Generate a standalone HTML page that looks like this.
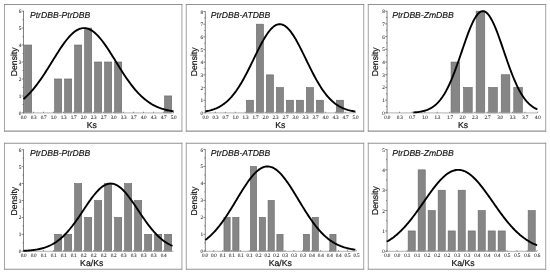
<!DOCTYPE html>
<html lang="en"><head><meta charset="utf-8"><title>Ks and Ka/Ks distributions</title>
<style>
html,body{margin:0;padding:0;background:#fff;}
body{width:550px;height:273px;overflow:hidden;}
svg{display:block;}
text{font-family:"Liberation Sans",Arial,sans-serif;fill:#111;text-rendering:geometricPrecision;}
.tk{font-family:"Liberation Serif","Times New Roman",serif;font-size:5.2px;fill:#303030;stroke:#303030;stroke-width:0.08px;letter-spacing:-0.25px;}
.ti{font-style:italic;font-size:8.6px;fill:#111;stroke:#111;stroke-width:0.15px;}
.dl{font-size:8.6px;stroke:#111;stroke-width:0.2px;}
.xl{font-size:8.7px;stroke:#111;stroke-width:0.2px;}
</style></head><body>
<svg width="550" height="273" viewBox="0 0 550 273">
<rect width="550" height="273" fill="#fff"/>
<g>
<path d="M4.50 4.00V131.60M181.90 4.00V131.60" fill="none" stroke="#a8a8a8" stroke-width="1.05"/>
<path d="M4.00 4.50H182.40M4.00 131.10H182.40" fill="none" stroke="#929292" stroke-width="1.1"/>
<rect x="24.60" y="45.03" width="7.10" height="67.87" fill="#868686" stroke="#666666" stroke-width="0.6"/>
<rect x="54.60" y="78.97" width="7.10" height="33.93" fill="#868686" stroke="#666666" stroke-width="0.6"/>
<rect x="64.60" y="78.97" width="7.10" height="33.93" fill="#868686" stroke="#666666" stroke-width="0.6"/>
<rect x="74.60" y="45.03" width="7.10" height="67.87" fill="#868686" stroke="#666666" stroke-width="0.6"/>
<rect x="84.60" y="28.07" width="7.10" height="84.83" fill="#868686" stroke="#666666" stroke-width="0.6"/>
<rect x="94.60" y="62.00" width="7.10" height="50.90" fill="#868686" stroke="#666666" stroke-width="0.6"/>
<rect x="104.60" y="62.00" width="7.10" height="50.90" fill="#868686" stroke="#666666" stroke-width="0.6"/>
<rect x="114.60" y="62.00" width="7.10" height="50.90" fill="#868686" stroke="#666666" stroke-width="0.6"/>
<rect x="164.60" y="95.93" width="7.10" height="16.97" fill="#868686" stroke="#666666" stroke-width="0.6"/>
<line x1="23.50" y1="10.80" x2="23.50" y2="113.40" stroke="#747474" stroke-width="0.9"/>
<line x1="23.50" y1="112.90" x2="173.50" y2="112.90" stroke="#a8a8a8" stroke-width="0.9"/>
<line x1="21.60" y1="112.90" x2="23.50" y2="112.90" stroke="#555" stroke-width="0.7"/>
<line x1="22.50" y1="104.42" x2="23.50" y2="104.42" stroke="#555" stroke-width="0.7"/>
<line x1="21.60" y1="95.93" x2="23.50" y2="95.93" stroke="#555" stroke-width="0.7"/>
<line x1="22.50" y1="87.45" x2="23.50" y2="87.45" stroke="#555" stroke-width="0.7"/>
<line x1="21.60" y1="78.97" x2="23.50" y2="78.97" stroke="#555" stroke-width="0.7"/>
<line x1="22.50" y1="70.48" x2="23.50" y2="70.48" stroke="#555" stroke-width="0.7"/>
<line x1="21.60" y1="62.00" x2="23.50" y2="62.00" stroke="#555" stroke-width="0.7"/>
<line x1="22.50" y1="53.52" x2="23.50" y2="53.52" stroke="#555" stroke-width="0.7"/>
<line x1="21.60" y1="45.03" x2="23.50" y2="45.03" stroke="#555" stroke-width="0.7"/>
<line x1="22.50" y1="36.55" x2="23.50" y2="36.55" stroke="#555" stroke-width="0.7"/>
<line x1="21.60" y1="28.07" x2="23.50" y2="28.07" stroke="#555" stroke-width="0.7"/>
<line x1="22.50" y1="19.58" x2="23.50" y2="19.58" stroke="#555" stroke-width="0.7"/>
<line x1="21.60" y1="11.10" x2="23.50" y2="11.10" stroke="#555" stroke-width="0.7"/>
<text x="21.10" y="114.90" class="tk" text-anchor="end">0</text>
<text x="21.10" y="97.93" class="tk" text-anchor="end">1</text>
<text x="21.10" y="80.97" class="tk" text-anchor="end">2</text>
<text x="21.10" y="64.00" class="tk" text-anchor="end">3</text>
<text x="21.10" y="47.03" class="tk" text-anchor="end">4</text>
<text x="21.10" y="30.07" class="tk" text-anchor="end">5</text>
<text x="21.10" y="13.10" class="tk" text-anchor="end">6</text>
<line x1="23.50" y1="111.70" x2="23.50" y2="112.90" stroke="#606060" stroke-width="0.7"/>
<text x="23.60" y="119.00" class="tk" text-anchor="middle">0.0</text>
<line x1="33.50" y1="111.70" x2="33.50" y2="112.90" stroke="#606060" stroke-width="0.7"/>
<text x="33.60" y="119.00" class="tk" text-anchor="middle">0.3</text>
<line x1="43.50" y1="111.70" x2="43.50" y2="112.90" stroke="#606060" stroke-width="0.7"/>
<text x="43.60" y="119.00" class="tk" text-anchor="middle">0.7</text>
<line x1="53.50" y1="111.70" x2="53.50" y2="112.90" stroke="#606060" stroke-width="0.7"/>
<text x="53.60" y="119.00" class="tk" text-anchor="middle">1.0</text>
<line x1="63.50" y1="111.70" x2="63.50" y2="112.90" stroke="#606060" stroke-width="0.7"/>
<text x="63.60" y="119.00" class="tk" text-anchor="middle">1.3</text>
<line x1="73.50" y1="111.70" x2="73.50" y2="112.90" stroke="#606060" stroke-width="0.7"/>
<text x="73.60" y="119.00" class="tk" text-anchor="middle">1.7</text>
<line x1="83.50" y1="111.70" x2="83.50" y2="112.90" stroke="#606060" stroke-width="0.7"/>
<text x="83.60" y="119.00" class="tk" text-anchor="middle">2.0</text>
<line x1="93.50" y1="111.70" x2="93.50" y2="112.90" stroke="#606060" stroke-width="0.7"/>
<text x="93.60" y="119.00" class="tk" text-anchor="middle">2.3</text>
<line x1="103.50" y1="111.70" x2="103.50" y2="112.90" stroke="#606060" stroke-width="0.7"/>
<text x="103.60" y="119.00" class="tk" text-anchor="middle">2.7</text>
<line x1="113.50" y1="111.70" x2="113.50" y2="112.90" stroke="#606060" stroke-width="0.7"/>
<text x="113.60" y="119.00" class="tk" text-anchor="middle">3.0</text>
<line x1="123.50" y1="111.70" x2="123.50" y2="112.90" stroke="#606060" stroke-width="0.7"/>
<text x="123.60" y="119.00" class="tk" text-anchor="middle">3.3</text>
<line x1="133.50" y1="111.70" x2="133.50" y2="112.90" stroke="#606060" stroke-width="0.7"/>
<text x="133.60" y="119.00" class="tk" text-anchor="middle">3.7</text>
<line x1="143.50" y1="111.70" x2="143.50" y2="112.90" stroke="#606060" stroke-width="0.7"/>
<text x="143.60" y="119.00" class="tk" text-anchor="middle">4.0</text>
<line x1="153.50" y1="111.70" x2="153.50" y2="112.90" stroke="#606060" stroke-width="0.7"/>
<text x="153.60" y="119.00" class="tk" text-anchor="middle">4.3</text>
<line x1="163.50" y1="111.70" x2="163.50" y2="112.90" stroke="#606060" stroke-width="0.7"/>
<text x="163.60" y="119.00" class="tk" text-anchor="middle">4.7</text>
<line x1="173.50" y1="111.70" x2="173.50" y2="112.90" stroke="#606060" stroke-width="0.7"/>
<text x="173.60" y="119.00" class="tk" text-anchor="middle">5.0</text>
<polyline points="23.50,99.01 24.50,98.16 25.50,97.28 26.50,96.36 27.50,95.40 28.50,94.40 29.50,93.37 30.50,92.30 31.50,91.19 32.50,90.04 33.50,88.86 34.50,87.64 35.50,86.39 36.50,85.10 37.50,83.78 38.50,82.42 39.50,81.03 40.50,79.62 41.50,78.17 42.50,76.70 43.50,75.20 44.50,73.68 45.50,72.14 46.50,70.57 47.50,69.00 48.50,67.41 49.50,65.80 50.50,64.19 51.50,62.58 52.50,60.96 53.50,59.34 54.50,57.73 55.50,56.13 56.50,54.53 57.50,52.95 58.50,51.39 59.50,49.85 60.50,48.34 61.50,46.85 62.50,45.40 63.50,43.98 64.50,42.61 65.50,41.27 66.50,39.99 67.50,38.75 68.50,37.57 69.50,36.44 70.50,35.38 71.50,34.37 72.50,33.44 73.50,32.57 74.50,31.77 75.50,31.04 76.50,30.39 77.50,29.82 78.50,29.33 79.50,28.91 80.50,28.58 81.50,28.33 82.50,28.16 83.50,28.08 84.50,28.08 85.50,28.16 86.50,28.33 87.50,28.58 88.50,28.91 89.50,29.33 90.50,29.82 91.50,30.39 92.50,31.04 93.50,31.77 94.50,32.57 95.50,33.44 96.50,34.37 97.50,35.38 98.50,36.44 99.50,37.57 100.50,38.75 101.50,39.99 102.50,41.27 103.50,42.61 104.50,43.98 105.50,45.40 106.50,46.85 107.50,48.34 108.50,49.85 109.50,51.39 110.50,52.95 111.50,54.53 112.50,56.13 113.50,57.73 114.50,59.34 115.50,60.96 116.50,62.58 117.50,64.19 118.50,65.80 119.50,67.41 120.50,69.00 121.50,70.57 122.50,72.14 123.50,73.68 124.50,75.20 125.50,76.70 126.50,78.17 127.50,79.62 128.50,81.03 129.50,82.42 130.50,83.78 131.50,85.10 132.50,86.39 133.50,87.64 134.50,88.86 135.50,90.04 136.50,91.19 137.50,92.30 138.50,93.37 139.50,94.40 140.50,95.40 141.50,96.36 142.50,97.28 143.50,98.16 144.50,99.01 145.50,99.83 146.50,100.60 147.50,101.35 148.50,102.06 149.50,102.73 150.50,103.37 151.50,103.98 152.50,104.56 153.50,105.11 154.50,105.63 155.50,106.13 156.50,106.59 157.50,107.03 158.50,107.45 159.50,107.84 160.50,108.20 161.50,108.55 162.50,108.87 163.50,109.17 164.50,109.46 165.50,109.72 166.50,109.97 167.50,110.20 168.50,110.42 169.50,110.62 170.50,110.80 171.50,110.97 172.50,111.14 173.50,111.28" fill="none" stroke="#000" stroke-width="1.9" stroke-linejoin="round" stroke-linecap="butt"/>
<text x="30.00" y="17.60" class="ti">PtrDBB-PtrDBB</text>
<text transform="translate(16.50,61.80) rotate(-90)" class="dl" text-anchor="middle">Density</text>
<text x="91.70" y="128.00" class="xl" text-anchor="middle">Ks</text>
</g>
<g>
<path d="M186.30 4.00V131.60M363.70 4.00V131.60" fill="none" stroke="#a8a8a8" stroke-width="1.05"/>
<path d="M185.80 4.50H364.20M185.80 131.10H364.20" fill="none" stroke="#929292" stroke-width="1.1"/>
<rect x="246.40" y="100.23" width="7.10" height="12.68" fill="#868686" stroke="#666666" stroke-width="0.6"/>
<rect x="256.40" y="24.17" width="7.10" height="88.73" fill="#868686" stroke="#666666" stroke-width="0.6"/>
<rect x="266.40" y="74.88" width="7.10" height="38.03" fill="#868686" stroke="#666666" stroke-width="0.6"/>
<rect x="276.40" y="87.55" width="7.10" height="25.35" fill="#868686" stroke="#666666" stroke-width="0.6"/>
<rect x="286.40" y="100.23" width="7.10" height="12.68" fill="#868686" stroke="#666666" stroke-width="0.6"/>
<rect x="296.40" y="100.23" width="7.10" height="12.68" fill="#868686" stroke="#666666" stroke-width="0.6"/>
<rect x="306.40" y="87.55" width="7.10" height="25.35" fill="#868686" stroke="#666666" stroke-width="0.6"/>
<rect x="316.40" y="100.23" width="7.10" height="12.68" fill="#868686" stroke="#666666" stroke-width="0.6"/>
<rect x="336.40" y="100.23" width="7.10" height="12.68" fill="#868686" stroke="#666666" stroke-width="0.6"/>
<line x1="205.30" y1="11.20" x2="205.30" y2="113.40" stroke="#747474" stroke-width="0.9"/>
<line x1="205.30" y1="112.90" x2="355.30" y2="112.90" stroke="#a8a8a8" stroke-width="0.9"/>
<line x1="203.40" y1="112.90" x2="205.30" y2="112.90" stroke="#555" stroke-width="0.7"/>
<line x1="204.30" y1="106.56" x2="205.30" y2="106.56" stroke="#555" stroke-width="0.7"/>
<line x1="203.40" y1="100.23" x2="205.30" y2="100.23" stroke="#555" stroke-width="0.7"/>
<line x1="204.30" y1="93.89" x2="205.30" y2="93.89" stroke="#555" stroke-width="0.7"/>
<line x1="203.40" y1="87.55" x2="205.30" y2="87.55" stroke="#555" stroke-width="0.7"/>
<line x1="204.30" y1="81.21" x2="205.30" y2="81.21" stroke="#555" stroke-width="0.7"/>
<line x1="203.40" y1="74.88" x2="205.30" y2="74.88" stroke="#555" stroke-width="0.7"/>
<line x1="204.30" y1="68.54" x2="205.30" y2="68.54" stroke="#555" stroke-width="0.7"/>
<line x1="203.40" y1="62.20" x2="205.30" y2="62.20" stroke="#555" stroke-width="0.7"/>
<line x1="204.30" y1="55.86" x2="205.30" y2="55.86" stroke="#555" stroke-width="0.7"/>
<line x1="203.40" y1="49.53" x2="205.30" y2="49.53" stroke="#555" stroke-width="0.7"/>
<line x1="204.30" y1="43.19" x2="205.30" y2="43.19" stroke="#555" stroke-width="0.7"/>
<line x1="203.40" y1="36.85" x2="205.30" y2="36.85" stroke="#555" stroke-width="0.7"/>
<line x1="204.30" y1="30.51" x2="205.30" y2="30.51" stroke="#555" stroke-width="0.7"/>
<line x1="203.40" y1="24.17" x2="205.30" y2="24.17" stroke="#555" stroke-width="0.7"/>
<line x1="204.30" y1="17.84" x2="205.30" y2="17.84" stroke="#555" stroke-width="0.7"/>
<line x1="203.40" y1="11.50" x2="205.30" y2="11.50" stroke="#555" stroke-width="0.7"/>
<text x="202.90" y="114.90" class="tk" text-anchor="end">0</text>
<text x="202.90" y="102.23" class="tk" text-anchor="end">1</text>
<text x="202.90" y="89.55" class="tk" text-anchor="end">2</text>
<text x="202.90" y="76.88" class="tk" text-anchor="end">3</text>
<text x="202.90" y="64.20" class="tk" text-anchor="end">4</text>
<text x="202.90" y="51.53" class="tk" text-anchor="end">5</text>
<text x="202.90" y="38.85" class="tk" text-anchor="end">6</text>
<text x="202.90" y="26.17" class="tk" text-anchor="end">7</text>
<text x="202.90" y="13.50" class="tk" text-anchor="end">8</text>
<line x1="205.30" y1="111.70" x2="205.30" y2="112.90" stroke="#606060" stroke-width="0.7"/>
<text x="205.40" y="119.00" class="tk" text-anchor="middle">0.0</text>
<line x1="215.30" y1="111.70" x2="215.30" y2="112.90" stroke="#606060" stroke-width="0.7"/>
<text x="215.40" y="119.00" class="tk" text-anchor="middle">0.3</text>
<line x1="225.30" y1="111.70" x2="225.30" y2="112.90" stroke="#606060" stroke-width="0.7"/>
<text x="225.40" y="119.00" class="tk" text-anchor="middle">0.7</text>
<line x1="235.30" y1="111.70" x2="235.30" y2="112.90" stroke="#606060" stroke-width="0.7"/>
<text x="235.40" y="119.00" class="tk" text-anchor="middle">1.0</text>
<line x1="245.30" y1="111.70" x2="245.30" y2="112.90" stroke="#606060" stroke-width="0.7"/>
<text x="245.40" y="119.00" class="tk" text-anchor="middle">1.3</text>
<line x1="255.30" y1="111.70" x2="255.30" y2="112.90" stroke="#606060" stroke-width="0.7"/>
<text x="255.40" y="119.00" class="tk" text-anchor="middle">1.7</text>
<line x1="265.30" y1="111.70" x2="265.30" y2="112.90" stroke="#606060" stroke-width="0.7"/>
<text x="265.40" y="119.00" class="tk" text-anchor="middle">2.0</text>
<line x1="275.30" y1="111.70" x2="275.30" y2="112.90" stroke="#606060" stroke-width="0.7"/>
<text x="275.40" y="119.00" class="tk" text-anchor="middle">2.3</text>
<line x1="285.30" y1="111.70" x2="285.30" y2="112.90" stroke="#606060" stroke-width="0.7"/>
<text x="285.40" y="119.00" class="tk" text-anchor="middle">2.7</text>
<line x1="295.30" y1="111.70" x2="295.30" y2="112.90" stroke="#606060" stroke-width="0.7"/>
<text x="295.40" y="119.00" class="tk" text-anchor="middle">3.0</text>
<line x1="305.30" y1="111.70" x2="305.30" y2="112.90" stroke="#606060" stroke-width="0.7"/>
<text x="305.40" y="119.00" class="tk" text-anchor="middle">3.3</text>
<line x1="315.30" y1="111.70" x2="315.30" y2="112.90" stroke="#606060" stroke-width="0.7"/>
<text x="315.40" y="119.00" class="tk" text-anchor="middle">3.7</text>
<line x1="325.30" y1="111.70" x2="325.30" y2="112.90" stroke="#606060" stroke-width="0.7"/>
<text x="325.40" y="119.00" class="tk" text-anchor="middle">4.0</text>
<line x1="335.30" y1="111.70" x2="335.30" y2="112.90" stroke="#606060" stroke-width="0.7"/>
<text x="335.40" y="119.00" class="tk" text-anchor="middle">4.3</text>
<line x1="345.30" y1="111.70" x2="345.30" y2="112.90" stroke="#606060" stroke-width="0.7"/>
<text x="345.40" y="119.00" class="tk" text-anchor="middle">4.7</text>
<line x1="355.30" y1="111.70" x2="355.30" y2="112.90" stroke="#606060" stroke-width="0.7"/>
<text x="355.40" y="119.00" class="tk" text-anchor="middle">5.0</text>
<polyline points="205.30,111.38 206.30,111.21 207.30,111.02 208.30,110.81 209.30,110.58 210.30,110.33 211.30,110.05 212.30,109.75 213.30,109.43 214.30,109.08 215.30,108.69 216.30,108.28 217.30,107.83 218.30,107.35 219.30,106.83 220.30,106.27 221.30,105.67 222.30,105.03 223.30,104.34 224.30,103.61 225.30,102.83 226.30,102.00 227.30,101.12 228.30,100.19 229.30,99.20 230.30,98.16 231.30,97.06 232.30,95.90 233.30,94.69 234.30,93.42 235.30,92.09 236.30,90.71 237.30,89.26 238.30,87.76 239.30,86.20 240.30,84.59 241.30,82.92 242.30,81.21 243.30,79.44 244.30,77.63 245.30,75.77 246.30,73.87 247.30,71.94 248.30,69.97 249.30,67.98 250.30,65.96 251.30,63.92 252.30,61.87 253.30,59.81 254.30,57.75 255.30,55.69 256.30,53.64 257.30,51.61 258.30,49.60 259.30,47.63 260.30,45.69 261.30,43.79 262.30,41.95 263.30,40.16 264.30,38.43 265.30,36.78 266.30,35.21 267.30,33.72 268.30,32.31 269.30,31.01 270.30,29.80 271.30,28.71 272.30,27.72 273.30,26.84 274.30,26.09 275.30,25.46 276.30,24.95 277.30,24.57 278.30,24.31 279.30,24.19 280.30,24.19 281.30,24.33 282.30,24.60 283.30,24.99 284.30,25.51 285.30,26.16 286.30,26.93 287.30,27.81 288.30,28.81 289.30,29.92 290.30,31.14 291.30,32.45 292.30,33.86 293.30,35.36 294.30,36.94 295.30,38.60 296.30,40.33 297.30,42.13 298.30,43.98 299.30,45.88 300.30,47.82 301.30,49.80 302.30,51.81 303.30,53.84 304.30,55.89 305.30,57.95 306.30,60.01 307.30,62.07 308.30,64.12 309.30,66.16 310.30,68.18 311.30,70.17 312.30,72.13 313.30,74.06 314.30,75.96 315.30,77.81 316.30,79.62 317.30,81.38 318.30,83.09 319.30,84.75 320.30,86.36 321.30,87.91 322.30,89.41 323.30,90.85 324.30,92.23 325.30,93.55 326.30,94.82 327.30,96.02 328.30,97.17 329.30,98.26 330.30,99.30 331.30,100.28 332.30,101.21 333.30,102.09 334.30,102.91 335.30,103.69 336.30,104.41 337.30,105.10 338.30,105.73 339.30,106.33 340.30,106.88 341.30,107.40 342.30,107.88 343.30,108.32 344.30,108.73 345.30,109.11 346.30,109.46 347.30,109.78 348.30,110.08 349.30,110.35 350.30,110.60 351.30,110.83 352.30,111.04 353.30,111.23 354.30,111.40 355.30,111.56" fill="none" stroke="#000" stroke-width="1.9" stroke-linejoin="round" stroke-linecap="butt"/>
<text x="210.80" y="17.60" class="ti">PtrDBB-ATDBB</text>
<text transform="translate(196.60,61.80) rotate(-90)" class="dl" text-anchor="middle">Density</text>
<text x="280.30" y="127.90" class="xl" text-anchor="middle">Ks</text>
</g>
<g>
<path d="M368.30 4.00V131.60M545.70 4.00V131.60" fill="none" stroke="#a8a8a8" stroke-width="1.05"/>
<path d="M367.80 4.50H546.20M367.80 131.10H546.20" fill="none" stroke="#929292" stroke-width="1.1"/>
<rect x="451.06" y="62.03" width="8.62" height="50.88" fill="#868686" stroke="#666666" stroke-width="0.6"/>
<rect x="463.60" y="87.46" width="8.62" height="25.44" fill="#868686" stroke="#666666" stroke-width="0.6"/>
<rect x="476.15" y="11.15" width="8.62" height="101.75" fill="#868686" stroke="#666666" stroke-width="0.6"/>
<rect x="488.69" y="87.46" width="8.62" height="25.44" fill="#868686" stroke="#666666" stroke-width="0.6"/>
<rect x="501.23" y="74.74" width="8.62" height="38.16" fill="#868686" stroke="#666666" stroke-width="0.6"/>
<rect x="513.77" y="87.46" width="8.62" height="25.44" fill="#868686" stroke="#666666" stroke-width="0.6"/>
<line x1="387.05" y1="10.85" x2="387.05" y2="113.40" stroke="#747474" stroke-width="0.9"/>
<line x1="387.05" y1="112.90" x2="537.55" y2="112.90" stroke="#a8a8a8" stroke-width="0.9"/>
<line x1="385.15" y1="112.90" x2="387.05" y2="112.90" stroke="#555" stroke-width="0.7"/>
<line x1="386.05" y1="106.54" x2="387.05" y2="106.54" stroke="#555" stroke-width="0.7"/>
<line x1="385.15" y1="100.18" x2="387.05" y2="100.18" stroke="#555" stroke-width="0.7"/>
<line x1="386.05" y1="93.82" x2="387.05" y2="93.82" stroke="#555" stroke-width="0.7"/>
<line x1="385.15" y1="87.46" x2="387.05" y2="87.46" stroke="#555" stroke-width="0.7"/>
<line x1="386.05" y1="81.10" x2="387.05" y2="81.10" stroke="#555" stroke-width="0.7"/>
<line x1="385.15" y1="74.74" x2="387.05" y2="74.74" stroke="#555" stroke-width="0.7"/>
<line x1="386.05" y1="68.38" x2="387.05" y2="68.38" stroke="#555" stroke-width="0.7"/>
<line x1="385.15" y1="62.03" x2="387.05" y2="62.03" stroke="#555" stroke-width="0.7"/>
<line x1="386.05" y1="55.67" x2="387.05" y2="55.67" stroke="#555" stroke-width="0.7"/>
<line x1="385.15" y1="49.31" x2="387.05" y2="49.31" stroke="#555" stroke-width="0.7"/>
<line x1="386.05" y1="42.95" x2="387.05" y2="42.95" stroke="#555" stroke-width="0.7"/>
<line x1="385.15" y1="36.59" x2="387.05" y2="36.59" stroke="#555" stroke-width="0.7"/>
<line x1="386.05" y1="30.23" x2="387.05" y2="30.23" stroke="#555" stroke-width="0.7"/>
<line x1="385.15" y1="23.87" x2="387.05" y2="23.87" stroke="#555" stroke-width="0.7"/>
<line x1="386.05" y1="17.51" x2="387.05" y2="17.51" stroke="#555" stroke-width="0.7"/>
<line x1="385.15" y1="11.15" x2="387.05" y2="11.15" stroke="#555" stroke-width="0.7"/>
<text x="384.65" y="114.90" class="tk" text-anchor="end">0</text>
<text x="384.65" y="102.18" class="tk" text-anchor="end">1</text>
<text x="384.65" y="89.46" class="tk" text-anchor="end">2</text>
<text x="384.65" y="76.74" class="tk" text-anchor="end">3</text>
<text x="384.65" y="64.03" class="tk" text-anchor="end">4</text>
<text x="384.65" y="51.31" class="tk" text-anchor="end">5</text>
<text x="384.65" y="38.59" class="tk" text-anchor="end">6</text>
<text x="384.65" y="25.87" class="tk" text-anchor="end">7</text>
<text x="384.65" y="13.15" class="tk" text-anchor="end">8</text>
<line x1="387.05" y1="111.70" x2="387.05" y2="112.90" stroke="#606060" stroke-width="0.7"/>
<text x="387.15" y="119.00" class="tk" text-anchor="middle">0.0</text>
<line x1="399.59" y1="111.70" x2="399.59" y2="112.90" stroke="#606060" stroke-width="0.7"/>
<text x="399.69" y="119.00" class="tk" text-anchor="middle">0.3</text>
<line x1="412.13" y1="111.70" x2="412.13" y2="112.90" stroke="#606060" stroke-width="0.7"/>
<text x="412.23" y="119.00" class="tk" text-anchor="middle">0.7</text>
<line x1="424.68" y1="111.70" x2="424.68" y2="112.90" stroke="#606060" stroke-width="0.7"/>
<text x="424.78" y="119.00" class="tk" text-anchor="middle">1.0</text>
<line x1="437.22" y1="111.70" x2="437.22" y2="112.90" stroke="#606060" stroke-width="0.7"/>
<text x="437.32" y="119.00" class="tk" text-anchor="middle">1.3</text>
<line x1="449.76" y1="111.70" x2="449.76" y2="112.90" stroke="#606060" stroke-width="0.7"/>
<text x="449.86" y="119.00" class="tk" text-anchor="middle">1.7</text>
<line x1="462.30" y1="111.70" x2="462.30" y2="112.90" stroke="#606060" stroke-width="0.7"/>
<text x="462.40" y="119.00" class="tk" text-anchor="middle">2.0</text>
<line x1="474.84" y1="111.70" x2="474.84" y2="112.90" stroke="#606060" stroke-width="0.7"/>
<text x="474.94" y="119.00" class="tk" text-anchor="middle">2.3</text>
<line x1="487.38" y1="111.70" x2="487.38" y2="112.90" stroke="#606060" stroke-width="0.7"/>
<text x="487.48" y="119.00" class="tk" text-anchor="middle">2.7</text>
<line x1="499.93" y1="111.70" x2="499.93" y2="112.90" stroke="#606060" stroke-width="0.7"/>
<text x="500.03" y="119.00" class="tk" text-anchor="middle">3.0</text>
<line x1="512.47" y1="111.70" x2="512.47" y2="112.90" stroke="#606060" stroke-width="0.7"/>
<text x="512.57" y="119.00" class="tk" text-anchor="middle">3.3</text>
<line x1="525.01" y1="111.70" x2="525.01" y2="112.90" stroke="#606060" stroke-width="0.7"/>
<text x="525.11" y="119.00" class="tk" text-anchor="middle">3.7</text>
<line x1="537.55" y1="111.70" x2="537.55" y2="112.90" stroke="#606060" stroke-width="0.7"/>
<text x="537.65" y="119.00" class="tk" text-anchor="middle">4.0</text>
<polyline points="413.37,112.47 414.37,112.40 415.37,112.32 416.37,112.22 417.37,112.11 418.37,111.99 419.37,111.84 420.37,111.68 421.37,111.50 422.37,111.29 423.37,111.06 424.37,110.79 425.37,110.50 426.37,110.17 427.37,109.80 428.37,109.38 429.37,108.93 430.37,108.42 431.37,107.86 432.37,107.24 433.37,106.56 434.37,105.82 435.37,105.00 436.37,104.11 437.37,103.15 438.37,102.10 439.37,100.97 440.37,99.75 441.37,98.43 442.37,97.03 443.37,95.52 444.37,93.91 445.37,92.21 446.37,90.40 447.37,88.48 448.37,86.47 449.37,84.35 450.37,82.13 451.37,79.82 452.37,77.41 453.37,74.92 454.37,72.34 455.37,69.68 456.37,66.95 457.37,64.16 458.37,61.32 459.37,58.44 460.37,55.53 461.37,52.60 462.37,49.66 463.37,46.73 464.37,43.82 465.37,40.94 466.37,38.12 467.37,35.36 468.37,32.68 469.37,30.09 470.37,27.62 471.37,25.27 472.37,23.06 473.37,21.01 474.37,19.12 475.37,17.40 476.37,15.88 477.37,14.56 478.37,13.44 479.37,12.54 480.37,11.86 481.37,11.40 482.37,11.18 483.37,11.18 484.37,11.42 485.37,11.88 486.37,12.57 487.37,13.48 488.37,14.61 489.37,15.94 490.37,17.47 491.37,19.19 492.37,21.09 493.37,23.15 494.37,25.36 495.37,27.72 496.37,30.20 497.37,32.78 498.37,35.47 499.37,38.23 500.37,41.06 501.37,43.93 502.37,46.84 503.37,49.78 504.37,52.71 505.37,55.64 506.37,58.56 507.37,61.44 508.37,64.28 509.37,67.06 510.37,69.79 511.37,72.44 512.37,75.02 513.37,77.51 514.37,79.91 515.37,82.22 516.37,84.44 517.37,86.55 518.37,88.56 519.37,90.47 520.37,92.28 521.37,93.98 522.37,95.58 523.37,97.08 524.37,98.49 525.37,99.80 526.37,101.02 527.37,102.15 528.37,103.19 529.37,104.15 530.37,105.04 531.37,105.85 532.37,106.59 533.37,107.27 534.37,107.88 535.37,108.44 536.37,108.95 537.37,109.40" fill="none" stroke="#000" stroke-width="1.9" stroke-linejoin="round" stroke-linecap="butt"/>
<text x="392.20" y="17.60" class="ti">PtrDBB-ZmDBB</text>
<text transform="translate(378.30,61.80) rotate(-90)" class="dl" text-anchor="middle">Density</text>
<text x="463.00" y="127.90" class="xl" text-anchor="middle">Ks</text>
</g>
<g>
<path d="M4.50 142.80V269.80M181.90 142.80V269.80" fill="none" stroke="#a8a8a8" stroke-width="1.05"/>
<path d="M4.00 143.30H182.40M4.00 269.30H182.40" fill="none" stroke="#929292" stroke-width="1.1"/>
<rect x="54.60" y="234.37" width="7.10" height="16.93" fill="#868686" stroke="#666666" stroke-width="0.6"/>
<rect x="64.60" y="234.37" width="7.10" height="16.93" fill="#868686" stroke="#666666" stroke-width="0.6"/>
<rect x="74.60" y="183.57" width="7.10" height="67.73" fill="#868686" stroke="#666666" stroke-width="0.6"/>
<rect x="84.60" y="217.43" width="7.10" height="33.87" fill="#868686" stroke="#666666" stroke-width="0.6"/>
<rect x="94.60" y="200.50" width="7.10" height="50.80" fill="#868686" stroke="#666666" stroke-width="0.6"/>
<rect x="104.60" y="183.57" width="7.10" height="67.73" fill="#868686" stroke="#666666" stroke-width="0.6"/>
<rect x="114.60" y="217.43" width="7.10" height="33.87" fill="#868686" stroke="#666666" stroke-width="0.6"/>
<rect x="124.60" y="183.57" width="7.10" height="67.73" fill="#868686" stroke="#666666" stroke-width="0.6"/>
<rect x="134.60" y="200.50" width="7.10" height="50.80" fill="#868686" stroke="#666666" stroke-width="0.6"/>
<rect x="144.60" y="234.37" width="7.10" height="16.93" fill="#868686" stroke="#666666" stroke-width="0.6"/>
<rect x="154.60" y="234.37" width="7.10" height="16.93" fill="#868686" stroke="#666666" stroke-width="0.6"/>
<rect x="164.60" y="234.37" width="7.10" height="16.93" fill="#868686" stroke="#666666" stroke-width="0.6"/>
<line x1="23.50" y1="149.40" x2="23.50" y2="251.80" stroke="#747474" stroke-width="0.9"/>
<line x1="23.50" y1="251.30" x2="173.50" y2="251.30" stroke="#a8a8a8" stroke-width="0.9"/>
<line x1="21.60" y1="251.30" x2="23.50" y2="251.30" stroke="#555" stroke-width="0.7"/>
<line x1="22.50" y1="242.83" x2="23.50" y2="242.83" stroke="#555" stroke-width="0.7"/>
<line x1="21.60" y1="234.37" x2="23.50" y2="234.37" stroke="#555" stroke-width="0.7"/>
<line x1="22.50" y1="225.90" x2="23.50" y2="225.90" stroke="#555" stroke-width="0.7"/>
<line x1="21.60" y1="217.43" x2="23.50" y2="217.43" stroke="#555" stroke-width="0.7"/>
<line x1="22.50" y1="208.97" x2="23.50" y2="208.97" stroke="#555" stroke-width="0.7"/>
<line x1="21.60" y1="200.50" x2="23.50" y2="200.50" stroke="#555" stroke-width="0.7"/>
<line x1="22.50" y1="192.03" x2="23.50" y2="192.03" stroke="#555" stroke-width="0.7"/>
<line x1="21.60" y1="183.57" x2="23.50" y2="183.57" stroke="#555" stroke-width="0.7"/>
<line x1="22.50" y1="175.10" x2="23.50" y2="175.10" stroke="#555" stroke-width="0.7"/>
<line x1="21.60" y1="166.63" x2="23.50" y2="166.63" stroke="#555" stroke-width="0.7"/>
<line x1="22.50" y1="158.17" x2="23.50" y2="158.17" stroke="#555" stroke-width="0.7"/>
<line x1="21.60" y1="149.70" x2="23.50" y2="149.70" stroke="#555" stroke-width="0.7"/>
<text x="21.10" y="253.30" class="tk" text-anchor="end">0</text>
<text x="21.10" y="236.37" class="tk" text-anchor="end">1</text>
<text x="21.10" y="219.43" class="tk" text-anchor="end">2</text>
<text x="21.10" y="202.50" class="tk" text-anchor="end">3</text>
<text x="21.10" y="185.57" class="tk" text-anchor="end">4</text>
<text x="21.10" y="168.63" class="tk" text-anchor="end">5</text>
<text x="21.10" y="151.70" class="tk" text-anchor="end">6</text>
<line x1="23.50" y1="250.10" x2="23.50" y2="251.30" stroke="#606060" stroke-width="0.7"/>
<text x="23.60" y="257.40" class="tk" text-anchor="middle">0.0</text>
<line x1="33.50" y1="250.10" x2="33.50" y2="251.30" stroke="#606060" stroke-width="0.7"/>
<text x="33.60" y="257.40" class="tk" text-anchor="middle">0.0</text>
<line x1="43.50" y1="250.10" x2="43.50" y2="251.30" stroke="#606060" stroke-width="0.7"/>
<text x="43.60" y="257.40" class="tk" text-anchor="middle">0.1</text>
<line x1="53.50" y1="250.10" x2="53.50" y2="251.30" stroke="#606060" stroke-width="0.7"/>
<text x="53.60" y="257.40" class="tk" text-anchor="middle">0.1</text>
<line x1="63.50" y1="250.10" x2="63.50" y2="251.30" stroke="#606060" stroke-width="0.7"/>
<text x="63.60" y="257.40" class="tk" text-anchor="middle">0.1</text>
<line x1="73.50" y1="250.10" x2="73.50" y2="251.30" stroke="#606060" stroke-width="0.7"/>
<text x="73.60" y="257.40" class="tk" text-anchor="middle">0.1</text>
<line x1="83.50" y1="250.10" x2="83.50" y2="251.30" stroke="#606060" stroke-width="0.7"/>
<text x="83.60" y="257.40" class="tk" text-anchor="middle">0.2</text>
<line x1="93.50" y1="250.10" x2="93.50" y2="251.30" stroke="#606060" stroke-width="0.7"/>
<text x="93.60" y="257.40" class="tk" text-anchor="middle">0.2</text>
<line x1="103.50" y1="250.10" x2="103.50" y2="251.30" stroke="#606060" stroke-width="0.7"/>
<text x="103.60" y="257.40" class="tk" text-anchor="middle">0.2</text>
<line x1="113.50" y1="250.10" x2="113.50" y2="251.30" stroke="#606060" stroke-width="0.7"/>
<text x="113.60" y="257.40" class="tk" text-anchor="middle">0.2</text>
<line x1="123.50" y1="250.10" x2="123.50" y2="251.30" stroke="#606060" stroke-width="0.7"/>
<text x="123.60" y="257.40" class="tk" text-anchor="middle">0.3</text>
<line x1="133.50" y1="250.10" x2="133.50" y2="251.30" stroke="#606060" stroke-width="0.7"/>
<text x="133.60" y="257.40" class="tk" text-anchor="middle">0.3</text>
<line x1="143.50" y1="250.10" x2="143.50" y2="251.30" stroke="#606060" stroke-width="0.7"/>
<text x="143.60" y="257.40" class="tk" text-anchor="middle">0.3</text>
<line x1="153.50" y1="250.10" x2="153.50" y2="251.30" stroke="#606060" stroke-width="0.7"/>
<text x="153.60" y="257.40" class="tk" text-anchor="middle">0.3</text>
<line x1="163.50" y1="250.10" x2="163.50" y2="251.30" stroke="#606060" stroke-width="0.7"/>
<text x="163.60" y="257.40" class="tk" text-anchor="middle">0.4</text>
<polyline points="23.50,250.87 24.50,250.82 25.50,250.76 26.50,250.70 27.50,250.63 28.50,250.55 29.50,250.47 30.50,250.37 31.50,250.27 32.50,250.15 33.50,250.03 34.50,249.89 35.50,249.74 36.50,249.58 37.50,249.40 38.50,249.21 39.50,249.00 40.50,248.77 41.50,248.52 42.50,248.26 43.50,247.97 44.50,247.66 45.50,247.32 46.50,246.97 47.50,246.58 48.50,246.17 49.50,245.73 50.50,245.26 51.50,244.76 52.50,244.23 53.50,243.66 54.50,243.07 55.50,242.43 56.50,241.76 57.50,241.05 58.50,240.31 59.50,239.52 60.50,238.70 61.50,237.83 62.50,236.93 63.50,235.99 64.50,235.00 65.50,233.98 66.50,232.92 67.50,231.81 68.50,230.67 69.50,229.49 70.50,228.27 71.50,227.02 72.50,225.74 73.50,224.42 74.50,223.07 75.50,221.69 76.50,220.29 77.50,218.86 78.50,217.42 79.50,215.95 80.50,214.48 81.50,212.99 82.50,211.49 83.50,209.99 84.50,208.49 85.50,207.00 86.50,205.52 87.50,204.04 88.50,202.59 89.50,201.16 90.50,199.75 91.50,198.38 92.50,197.04 93.50,195.74 94.50,194.49 95.50,193.29 96.50,192.13 97.50,191.04 98.50,190.01 99.50,189.04 100.50,188.14 101.50,187.32 102.50,186.57 103.50,185.90 104.50,185.31 105.50,184.80 106.50,184.38 107.50,184.04 108.50,183.79 109.50,183.64 110.50,183.57 111.50,183.59 112.50,183.70 113.50,183.91 114.50,184.20 115.50,184.58 116.50,185.04 117.50,185.59 118.50,186.22 119.50,186.93 120.50,187.72 121.50,188.58 122.50,189.52 123.50,190.52 124.50,191.58 125.50,192.70 126.50,193.88 127.50,195.11 128.50,196.39 129.50,197.71 130.50,199.06 131.50,200.45 132.50,201.87 133.50,203.32 134.50,204.78 135.50,206.26 136.50,207.75 137.50,209.24 138.50,210.74 139.50,212.24 140.50,213.73 141.50,215.22 142.50,216.69 143.50,218.14 144.50,219.58 145.50,220.99 146.50,222.38 147.50,223.75 148.50,225.08 149.50,226.38 150.50,227.65 151.50,228.89 152.50,230.08 153.50,231.25 154.50,232.37 155.50,233.45 156.50,234.50 157.50,235.50 158.50,236.46 159.50,237.39 160.50,238.27 161.50,239.11 162.50,239.92 163.50,240.68 164.50,241.41 165.50,242.10 166.50,242.75 167.50,243.37 168.50,243.95 169.50,244.50 170.50,245.02 171.50,245.50 172.50,245.96" fill="none" stroke="#000" stroke-width="1.9" stroke-linejoin="round" stroke-linecap="butt"/>
<text x="30.00" y="156.40" class="ti">PtrDBB-PtrDBB</text>
<text transform="translate(16.50,201.20) rotate(-90)" class="dl" text-anchor="middle">Density</text>
<text x="91.70" y="266.10" class="xl" text-anchor="middle">Ka/Ks</text>
</g>
<g>
<path d="M186.30 142.80V269.80M363.70 142.80V269.80" fill="none" stroke="#a8a8a8" stroke-width="1.05"/>
<path d="M185.80 143.30H364.20M185.80 269.30H364.20" fill="none" stroke="#929292" stroke-width="1.1"/>
<rect x="223.95" y="217.37" width="6.19" height="33.93" fill="#868686" stroke="#666666" stroke-width="0.6"/>
<rect x="232.78" y="217.37" width="6.19" height="33.93" fill="#868686" stroke="#666666" stroke-width="0.6"/>
<rect x="250.42" y="166.47" width="6.19" height="84.83" fill="#868686" stroke="#666666" stroke-width="0.6"/>
<rect x="259.25" y="217.37" width="6.19" height="33.93" fill="#868686" stroke="#666666" stroke-width="0.6"/>
<rect x="268.07" y="200.40" width="6.19" height="50.90" fill="#868686" stroke="#666666" stroke-width="0.6"/>
<rect x="276.89" y="234.33" width="6.19" height="16.97" fill="#868686" stroke="#666666" stroke-width="0.6"/>
<rect x="303.36" y="234.33" width="6.19" height="16.97" fill="#868686" stroke="#666666" stroke-width="0.6"/>
<rect x="312.19" y="217.37" width="6.19" height="33.93" fill="#868686" stroke="#666666" stroke-width="0.6"/>
<rect x="329.84" y="234.33" width="6.19" height="16.97" fill="#868686" stroke="#666666" stroke-width="0.6"/>
<line x1="205.30" y1="149.20" x2="205.30" y2="251.80" stroke="#747474" stroke-width="0.9"/>
<line x1="205.30" y1="251.30" x2="355.30" y2="251.30" stroke="#a8a8a8" stroke-width="0.9"/>
<line x1="203.40" y1="251.30" x2="205.30" y2="251.30" stroke="#555" stroke-width="0.7"/>
<line x1="204.30" y1="242.82" x2="205.30" y2="242.82" stroke="#555" stroke-width="0.7"/>
<line x1="203.40" y1="234.33" x2="205.30" y2="234.33" stroke="#555" stroke-width="0.7"/>
<line x1="204.30" y1="225.85" x2="205.30" y2="225.85" stroke="#555" stroke-width="0.7"/>
<line x1="203.40" y1="217.37" x2="205.30" y2="217.37" stroke="#555" stroke-width="0.7"/>
<line x1="204.30" y1="208.88" x2="205.30" y2="208.88" stroke="#555" stroke-width="0.7"/>
<line x1="203.40" y1="200.40" x2="205.30" y2="200.40" stroke="#555" stroke-width="0.7"/>
<line x1="204.30" y1="191.92" x2="205.30" y2="191.92" stroke="#555" stroke-width="0.7"/>
<line x1="203.40" y1="183.43" x2="205.30" y2="183.43" stroke="#555" stroke-width="0.7"/>
<line x1="204.30" y1="174.95" x2="205.30" y2="174.95" stroke="#555" stroke-width="0.7"/>
<line x1="203.40" y1="166.47" x2="205.30" y2="166.47" stroke="#555" stroke-width="0.7"/>
<line x1="204.30" y1="157.98" x2="205.30" y2="157.98" stroke="#555" stroke-width="0.7"/>
<line x1="203.40" y1="149.50" x2="205.30" y2="149.50" stroke="#555" stroke-width="0.7"/>
<text x="202.90" y="253.30" class="tk" text-anchor="end">0</text>
<text x="202.90" y="236.33" class="tk" text-anchor="end">1</text>
<text x="202.90" y="219.37" class="tk" text-anchor="end">2</text>
<text x="202.90" y="202.40" class="tk" text-anchor="end">3</text>
<text x="202.90" y="185.43" class="tk" text-anchor="end">4</text>
<text x="202.90" y="168.47" class="tk" text-anchor="end">5</text>
<text x="202.90" y="151.50" class="tk" text-anchor="end">6</text>
<line x1="204.80" y1="250.10" x2="204.80" y2="251.30" stroke="#606060" stroke-width="0.7"/>
<text x="204.90" y="257.40" class="tk" text-anchor="middle">0.0</text>
<line x1="213.71" y1="250.10" x2="213.71" y2="251.30" stroke="#606060" stroke-width="0.7"/>
<text x="213.81" y="257.40" class="tk" text-anchor="middle">0.0</text>
<line x1="222.62" y1="250.10" x2="222.62" y2="251.30" stroke="#606060" stroke-width="0.7"/>
<text x="222.72" y="257.40" class="tk" text-anchor="middle">0.1</text>
<line x1="231.53" y1="250.10" x2="231.53" y2="251.30" stroke="#606060" stroke-width="0.7"/>
<text x="231.63" y="257.40" class="tk" text-anchor="middle">0.1</text>
<line x1="240.44" y1="250.10" x2="240.44" y2="251.30" stroke="#606060" stroke-width="0.7"/>
<text x="240.54" y="257.40" class="tk" text-anchor="middle">0.1</text>
<line x1="249.35" y1="250.10" x2="249.35" y2="251.30" stroke="#606060" stroke-width="0.7"/>
<text x="249.45" y="257.40" class="tk" text-anchor="middle">0.1</text>
<line x1="258.26" y1="250.10" x2="258.26" y2="251.30" stroke="#606060" stroke-width="0.7"/>
<text x="258.36" y="257.40" class="tk" text-anchor="middle">0.2</text>
<line x1="267.17" y1="250.10" x2="267.17" y2="251.30" stroke="#606060" stroke-width="0.7"/>
<text x="267.27" y="257.40" class="tk" text-anchor="middle">0.2</text>
<line x1="276.08" y1="250.10" x2="276.08" y2="251.30" stroke="#606060" stroke-width="0.7"/>
<text x="276.18" y="257.40" class="tk" text-anchor="middle">0.2</text>
<line x1="284.99" y1="250.10" x2="284.99" y2="251.30" stroke="#606060" stroke-width="0.7"/>
<text x="285.09" y="257.40" class="tk" text-anchor="middle">0.3</text>
<line x1="293.90" y1="250.10" x2="293.90" y2="251.30" stroke="#606060" stroke-width="0.7"/>
<text x="294.00" y="257.40" class="tk" text-anchor="middle">0.3</text>
<line x1="302.81" y1="250.10" x2="302.81" y2="251.30" stroke="#606060" stroke-width="0.7"/>
<text x="302.91" y="257.40" class="tk" text-anchor="middle">0.3</text>
<line x1="311.72" y1="250.10" x2="311.72" y2="251.30" stroke="#606060" stroke-width="0.7"/>
<text x="311.82" y="257.40" class="tk" text-anchor="middle">0.4</text>
<line x1="320.63" y1="250.10" x2="320.63" y2="251.30" stroke="#606060" stroke-width="0.7"/>
<text x="320.73" y="257.40" class="tk" text-anchor="middle">0.4</text>
<line x1="329.54" y1="250.10" x2="329.54" y2="251.30" stroke="#606060" stroke-width="0.7"/>
<text x="329.64" y="257.40" class="tk" text-anchor="middle">0.4</text>
<line x1="338.45" y1="250.10" x2="338.45" y2="251.30" stroke="#606060" stroke-width="0.7"/>
<text x="338.55" y="257.40" class="tk" text-anchor="middle">0.4</text>
<line x1="347.36" y1="250.10" x2="347.36" y2="251.30" stroke="#606060" stroke-width="0.7"/>
<text x="347.46" y="257.40" class="tk" text-anchor="middle">0.5</text>
<line x1="356.27" y1="250.10" x2="356.27" y2="251.30" stroke="#606060" stroke-width="0.7"/>
<text x="356.37" y="257.40" class="tk" text-anchor="middle">0.5</text>
<polyline points="205.30,239.97 206.30,239.21 207.30,238.43 208.30,237.60 209.30,236.74 210.30,235.84 211.30,234.90 212.30,233.92 213.30,232.90 214.30,231.84 215.30,230.75 216.30,229.61 217.30,228.44 218.30,227.22 219.30,225.97 220.30,224.68 221.30,223.36 222.30,222.00 223.30,220.60 224.30,219.17 225.30,217.71 226.30,216.22 227.30,214.71 228.30,213.16 229.30,211.60 230.30,210.01 231.30,208.40 232.30,206.78 233.30,205.14 234.30,203.49 235.30,201.84 236.30,200.18 237.30,198.52 238.30,196.86 239.30,195.21 240.30,193.57 241.30,191.94 242.30,190.34 243.30,188.75 244.30,187.19 245.30,185.65 246.30,184.16 247.30,182.69 248.30,181.27 249.30,179.90 250.30,178.57 251.30,177.29 252.30,176.08 253.30,174.92 254.30,173.82 255.30,172.79 256.30,171.83 257.30,170.94 258.30,170.12 259.30,169.38 260.30,168.72 261.30,168.15 262.30,167.65 263.30,167.24 264.30,166.92 265.30,166.68 266.30,166.53 267.30,166.47 268.30,166.49 269.30,166.61 270.30,166.81 271.30,167.10 272.30,167.48 273.30,167.94 274.30,168.48 275.30,169.11 276.30,169.82 277.30,170.60 278.30,171.46 279.30,172.40 280.30,173.40 281.30,174.47 282.30,175.60 283.30,176.80 284.30,178.05 285.30,179.36 286.30,180.72 287.30,182.12 288.30,183.57 289.30,185.05 290.30,186.57 291.30,188.12 292.30,189.70 293.30,191.30 294.30,192.92 295.30,194.55 296.30,196.20 297.30,197.86 298.30,199.51 299.30,201.17 300.30,202.83 301.30,204.48 302.30,206.12 303.30,207.75 304.30,209.37 305.30,210.96 306.30,212.54 307.30,214.09 308.30,215.62 309.30,217.12 310.30,218.59 311.30,220.03 312.30,221.44 313.30,222.82 314.30,224.16 315.30,225.46 316.30,226.73 317.30,227.96 318.30,229.15 319.30,230.30 320.30,231.41 321.30,232.48 322.30,233.52 323.30,234.51 324.30,235.47 325.30,236.38 326.30,237.26 327.30,238.10 328.30,238.90 329.30,239.67 330.30,240.40 331.30,241.10 332.30,241.76 333.30,242.38 334.30,242.98 335.30,243.54 336.30,244.07 337.30,244.58 338.30,245.05 339.30,245.50 340.30,245.92 341.30,246.31 342.30,246.68 343.30,247.03 344.30,247.36 345.30,247.66 346.30,247.95 347.30,248.21 348.30,248.46 349.30,248.69 350.30,248.90 351.30,249.10 352.30,249.29 353.30,249.46 354.30,249.62 355.30,249.76" fill="none" stroke="#000" stroke-width="1.9" stroke-linejoin="round" stroke-linecap="butt"/>
<text x="210.80" y="156.40" class="ti">PtrDBB-ATDBB</text>
<text transform="translate(196.60,201.10) rotate(-90)" class="dl" text-anchor="middle">Density</text>
<text x="280.30" y="265.50" class="xl" text-anchor="middle">Ka/Ks</text>
</g>
<g>
<path d="M368.30 142.80V269.80M545.70 142.80V269.80" fill="none" stroke="#a8a8a8" stroke-width="1.05"/>
<path d="M367.80 143.30H546.20M367.80 269.30H546.20" fill="none" stroke="#929292" stroke-width="1.1"/>
<rect x="408.15" y="230.94" width="7.10" height="20.36" fill="#868686" stroke="#666666" stroke-width="0.6"/>
<rect x="418.15" y="169.86" width="7.10" height="81.44" fill="#868686" stroke="#666666" stroke-width="0.6"/>
<rect x="428.15" y="210.58" width="7.10" height="40.72" fill="#868686" stroke="#666666" stroke-width="0.6"/>
<rect x="438.15" y="190.22" width="7.10" height="61.08" fill="#868686" stroke="#666666" stroke-width="0.6"/>
<rect x="448.15" y="230.94" width="7.10" height="20.36" fill="#868686" stroke="#666666" stroke-width="0.6"/>
<rect x="458.15" y="190.22" width="7.10" height="61.08" fill="#868686" stroke="#666666" stroke-width="0.6"/>
<rect x="468.15" y="230.94" width="7.10" height="20.36" fill="#868686" stroke="#666666" stroke-width="0.6"/>
<rect x="478.15" y="210.58" width="7.10" height="40.72" fill="#868686" stroke="#666666" stroke-width="0.6"/>
<rect x="488.15" y="230.94" width="7.10" height="20.36" fill="#868686" stroke="#666666" stroke-width="0.6"/>
<rect x="498.15" y="230.94" width="7.10" height="20.36" fill="#868686" stroke="#666666" stroke-width="0.6"/>
<rect x="528.15" y="210.58" width="7.10" height="40.72" fill="#868686" stroke="#666666" stroke-width="0.6"/>
<line x1="387.05" y1="149.20" x2="387.05" y2="251.80" stroke="#747474" stroke-width="0.9"/>
<line x1="387.05" y1="251.30" x2="537.05" y2="251.30" stroke="#a8a8a8" stroke-width="0.9"/>
<line x1="385.15" y1="251.30" x2="387.05" y2="251.30" stroke="#555" stroke-width="0.7"/>
<line x1="386.05" y1="241.12" x2="387.05" y2="241.12" stroke="#555" stroke-width="0.7"/>
<line x1="385.15" y1="230.94" x2="387.05" y2="230.94" stroke="#555" stroke-width="0.7"/>
<line x1="386.05" y1="220.76" x2="387.05" y2="220.76" stroke="#555" stroke-width="0.7"/>
<line x1="385.15" y1="210.58" x2="387.05" y2="210.58" stroke="#555" stroke-width="0.7"/>
<line x1="386.05" y1="200.40" x2="387.05" y2="200.40" stroke="#555" stroke-width="0.7"/>
<line x1="385.15" y1="190.22" x2="387.05" y2="190.22" stroke="#555" stroke-width="0.7"/>
<line x1="386.05" y1="180.04" x2="387.05" y2="180.04" stroke="#555" stroke-width="0.7"/>
<line x1="385.15" y1="169.86" x2="387.05" y2="169.86" stroke="#555" stroke-width="0.7"/>
<line x1="386.05" y1="159.68" x2="387.05" y2="159.68" stroke="#555" stroke-width="0.7"/>
<line x1="385.15" y1="149.50" x2="387.05" y2="149.50" stroke="#555" stroke-width="0.7"/>
<text x="384.65" y="253.30" class="tk" text-anchor="end">0</text>
<text x="384.65" y="232.94" class="tk" text-anchor="end">1</text>
<text x="384.65" y="212.58" class="tk" text-anchor="end">2</text>
<text x="384.65" y="192.22" class="tk" text-anchor="end">3</text>
<text x="384.65" y="171.86" class="tk" text-anchor="end">4</text>
<text x="384.65" y="151.50" class="tk" text-anchor="end">5</text>
<line x1="387.05" y1="250.10" x2="387.05" y2="251.30" stroke="#606060" stroke-width="0.7"/>
<text x="387.15" y="257.40" class="tk" text-anchor="middle">0.0</text>
<line x1="397.05" y1="250.10" x2="397.05" y2="251.30" stroke="#606060" stroke-width="0.7"/>
<text x="397.15" y="257.40" class="tk" text-anchor="middle">0.0</text>
<line x1="407.05" y1="250.10" x2="407.05" y2="251.30" stroke="#606060" stroke-width="0.7"/>
<text x="407.15" y="257.40" class="tk" text-anchor="middle">0.1</text>
<line x1="417.05" y1="250.10" x2="417.05" y2="251.30" stroke="#606060" stroke-width="0.7"/>
<text x="417.15" y="257.40" class="tk" text-anchor="middle">0.1</text>
<line x1="427.05" y1="250.10" x2="427.05" y2="251.30" stroke="#606060" stroke-width="0.7"/>
<text x="427.15" y="257.40" class="tk" text-anchor="middle">0.2</text>
<line x1="437.05" y1="250.10" x2="437.05" y2="251.30" stroke="#606060" stroke-width="0.7"/>
<text x="437.15" y="257.40" class="tk" text-anchor="middle">0.2</text>
<line x1="447.05" y1="250.10" x2="447.05" y2="251.30" stroke="#606060" stroke-width="0.7"/>
<text x="447.15" y="257.40" class="tk" text-anchor="middle">0.2</text>
<line x1="457.05" y1="250.10" x2="457.05" y2="251.30" stroke="#606060" stroke-width="0.7"/>
<text x="457.15" y="257.40" class="tk" text-anchor="middle">0.3</text>
<line x1="467.05" y1="250.10" x2="467.05" y2="251.30" stroke="#606060" stroke-width="0.7"/>
<text x="467.15" y="257.40" class="tk" text-anchor="middle">0.3</text>
<line x1="477.05" y1="250.10" x2="477.05" y2="251.30" stroke="#606060" stroke-width="0.7"/>
<text x="477.15" y="257.40" class="tk" text-anchor="middle">0.4</text>
<line x1="487.05" y1="250.10" x2="487.05" y2="251.30" stroke="#606060" stroke-width="0.7"/>
<text x="487.15" y="257.40" class="tk" text-anchor="middle">0.4</text>
<line x1="497.05" y1="250.10" x2="497.05" y2="251.30" stroke="#606060" stroke-width="0.7"/>
<text x="497.15" y="257.40" class="tk" text-anchor="middle">0.4</text>
<line x1="507.05" y1="250.10" x2="507.05" y2="251.30" stroke="#606060" stroke-width="0.7"/>
<text x="507.15" y="257.40" class="tk" text-anchor="middle">0.5</text>
<line x1="517.05" y1="250.10" x2="517.05" y2="251.30" stroke="#606060" stroke-width="0.7"/>
<text x="517.15" y="257.40" class="tk" text-anchor="middle">0.5</text>
<line x1="527.05" y1="250.10" x2="527.05" y2="251.30" stroke="#606060" stroke-width="0.7"/>
<text x="527.15" y="257.40" class="tk" text-anchor="middle">0.6</text>
<line x1="537.05" y1="250.10" x2="537.05" y2="251.30" stroke="#606060" stroke-width="0.7"/>
<text x="537.15" y="257.40" class="tk" text-anchor="middle">0.6</text>
<polyline points="387.05,241.62 388.05,241.03 389.05,240.41 390.05,239.76 391.05,239.08 392.05,238.38 393.05,237.65 394.05,236.88 395.05,236.09 396.05,235.27 397.05,234.41 398.05,233.53 399.05,232.62 400.05,231.67 401.05,230.70 402.05,229.69 403.05,228.66 404.05,227.59 405.05,226.50 406.05,225.37 407.05,224.22 408.05,223.05 409.05,221.84 410.05,220.61 411.05,219.36 412.05,218.08 413.05,216.78 414.05,215.46 415.05,214.12 416.05,212.76 417.05,211.38 418.05,209.99 419.05,208.59 420.05,207.18 421.05,205.76 422.05,204.34 423.05,202.91 424.05,201.47 425.05,200.04 426.05,198.62 427.05,197.19 428.05,195.78 429.05,194.38 430.05,192.99 431.05,191.62 432.05,190.26 433.05,188.93 434.05,187.62 435.05,186.34 436.05,185.09 437.05,183.87 438.05,182.69 439.05,181.54 440.05,180.44 441.05,179.38 442.05,178.36 443.05,177.39 444.05,176.47 445.05,175.61 446.05,174.80 447.05,174.04 448.05,173.34 449.05,172.70 450.05,172.13 451.05,171.61 452.05,171.16 453.05,170.78 454.05,170.46 455.05,170.21 456.05,170.03 457.05,169.91 458.05,169.86 459.05,169.88 460.05,169.97 461.05,170.13 462.05,170.35 463.05,170.64 464.05,171.00 465.05,171.43 466.05,171.92 467.05,172.47 468.05,173.08 469.05,173.75 470.05,174.49 471.05,175.28 472.05,176.12 473.05,177.02 474.05,177.97 475.05,178.97 476.05,180.01 477.05,181.10 478.05,182.23 479.05,183.39 480.05,184.60 481.05,185.84 482.05,187.11 483.05,188.40 484.05,189.73 485.05,191.07 486.05,192.44 487.05,193.82 488.05,195.22 489.05,196.63 490.05,198.05 491.05,199.47 492.05,200.90 493.05,202.33 494.05,203.76 495.05,205.19 496.05,206.61 497.05,208.03 498.05,209.44 499.05,210.83 500.05,212.21 501.05,213.57 502.05,214.92 503.05,216.25 504.05,217.56 505.05,218.85 506.05,220.11 507.05,221.35 508.05,222.57 509.05,223.76 510.05,224.92 511.05,226.05 512.05,227.16 513.05,228.23 514.05,229.28 515.05,230.30 516.05,231.29 517.05,232.24 518.05,233.17 519.05,234.06 520.05,234.93 521.05,235.76 522.05,236.57 523.05,237.34 524.05,238.09 525.05,238.80 526.05,239.49 527.05,240.15 528.05,240.78 529.05,241.38 530.05,241.96 531.05,242.51 532.05,243.04 533.05,243.54 534.05,244.01 535.05,244.46 536.05,244.89 537.05,245.30" fill="none" stroke="#000" stroke-width="1.9" stroke-linejoin="round" stroke-linecap="butt"/>
<text x="392.20" y="156.40" class="ti">PtrDBB-ZmDBB</text>
<text transform="translate(378.30,200.60) rotate(-90)" class="dl" text-anchor="middle">Density</text>
<text x="463.00" y="265.60" class="xl" text-anchor="middle">Ka/Ks</text>
</g>
</svg>
</body></html>
